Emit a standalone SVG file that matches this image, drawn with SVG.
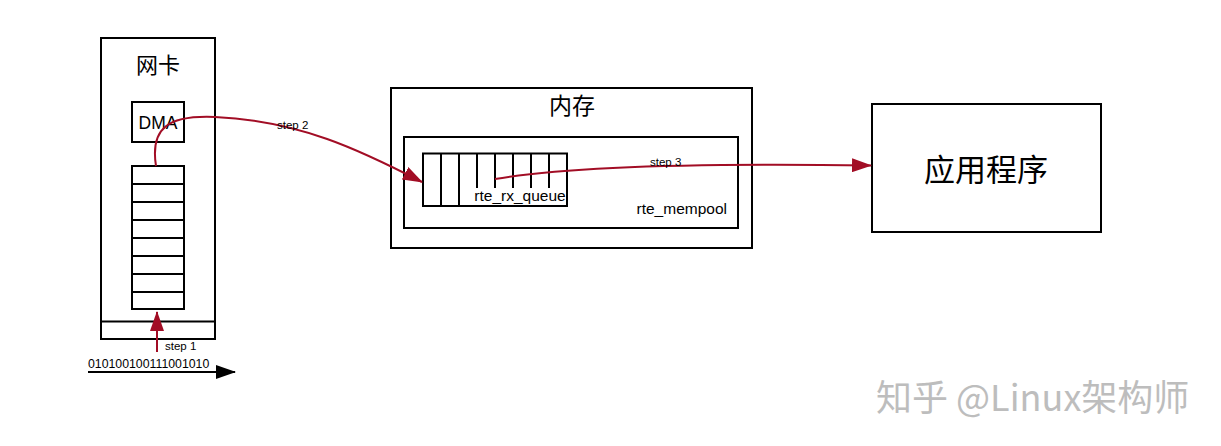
<svg xmlns="http://www.w3.org/2000/svg" width="1221" height="446" viewBox="0 0 1221 446">
<defs>
<style>
.box{fill:#fff;stroke:#000;stroke-width:2}
.ln{stroke:#000;stroke-width:2;fill:none}
.red{stroke:#a20d25;stroke-width:2;fill:none}
.t{font-family:"Liberation Sans","Noto Sans CJK SC",sans-serif;fill:#000}
.cjk{font-family:"Noto Sans CJK SC","Liberation Sans",sans-serif;fill:#000}
.wm{font-family:"Noto Sans CJK SC","Liberation Sans",sans-serif;fill:#bdbdbd}
</style>
<marker id="ar" viewBox="0 0 20 14" refX="19" refY="7" markerWidth="20" markerHeight="14" markerUnits="userSpaceOnUse" orient="auto">
<path d="M0,0 L20,7 L0,14 Z" fill="#a20d25"/>
</marker>
<marker id="ab" viewBox="0 0 20 14" refX="19" refY="7" markerWidth="20" markerHeight="14" markerUnits="userSpaceOnUse" orient="auto">
<path d="M0,0 L20,7 L0,14 Z" fill="#000"/>
</marker>
</defs>
<rect width="1221" height="446" fill="#fff"/>
<g id="nic">
<rect class="box" x="101" y="38" width="114" height="301"/>
<line class="ln" x1="101" y1="321.5" x2="215" y2="321.5"/>
<text class="cjk" x="158" y="73" font-size="22" text-anchor="middle">网卡</text>
</g>
<g id="dma">
<rect class="box" x="132" y="102" width="52" height="40"/>
<text class="t" x="158" y="129" font-size="17.5" text-anchor="middle">DMA</text>
</g>
<g id="nic-queue">
<rect class="box" x="132" y="166" width="52" height="143"/>
<path class="ln" d="M132,184H184M132,202H184M132,220H184M132,238H184M132,256H184M132,274H184M132,292H184"/>
</g>
<g id="memory">
<rect class="box" x="391" y="88" width="361" height="160"/>
<text class="cjk" x="572" y="114" font-size="23" text-anchor="middle">内存</text>
</g>
<g id="rte_mempool">
<rect class="box" x="404" y="137" width="334" height="91"/>
<text class="t" x="727" y="214" font-size="15.5" text-anchor="end">rte_mempool</text>
</g>
<g id="rte_rx_queue">
<rect class="box" x="423" y="153.5" width="144" height="52.5"/>
<path class="ln" d="M441,153.5V206M459,153.5V206M477,153.5V188M495,153.5V188M513,153.5V188M531,153.5V188M549,153.5V188"/>
<rect x="474" y="188" width="92" height="17" fill="#fff"/>
<text class="t" x="520" y="201" font-size="15.5" text-anchor="middle">rte_rx_queue</text>
</g>
<g id="app">
<rect class="box" x="872" y="104" width="229" height="128"/>
<text class="cjk" x="986" y="181" font-size="31" text-anchor="middle">应用程序</text>
</g>
<g id="connectors">
<path class="red" d="M157,352 L157,312" marker-end="url(#ar)"/>
<text class="t" x="165" y="350" font-size="11.5">step 1</text>
<path class="ln" d="M88,372 L235,372" marker-end="url(#ab)"/>
<text class="t" x="88" y="368" font-size="12.3">010100100111001010</text>
<path class="red" d="M156,166 C150,128 168,115 215,117 C300,121 360,150 422,182" marker-end="url(#ar)"/>
<text class="t" x="277" y="129" font-size="11.5">step 2</text>
<path class="red" d="M495,179 C570,166 700,163 871,165.5" marker-end="url(#ar)"/>
<text class="t" x="650" y="166" font-size="11.5">step 3</text>
</g>
<text class="wm" x="876" y="411" font-size="36">知乎 @Linux架构师</text>
</svg>
